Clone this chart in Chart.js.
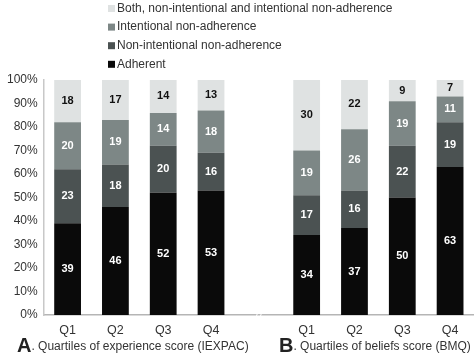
<!DOCTYPE html>
<html><head><meta charset="utf-8">
<script src="https://cdn.jsdelivr.net/npm/chart.js@4"></script>
<style>html,body{margin:0;padding:0;background:#fff}#wrap{width:474px;height:358px;position:relative}</style>
</head><body><div id="wrap"><canvas id="c" width="474" height="358"></canvas></div>
<script>
const categories = ['Q1','Q2','Q3','Q4','','Q1','Q2','Q3','Q4'];
const adherent = [39,46,52,53,null,34,37,50,63];
const nonIntentional = [23,18,20,16,null,17,16,22,19];
const intentional = [20,19,14,18,null,19,26,19,11];
const both = [18,17,14,13,null,30,22,9,7];
const seriesNames = ['Adherent','Non-intentional non-adherence','Intentional non-adherence','Both, non-intentional and intentional non-adherence'];
const seriesColors = ['#0a0a0a','#4b5252','#7d8786','#dfe2e2'];
const labelColors = ['#fff','#fff','#fff','#111'];
const groupTitles = [['A','. Quartiles of experience score (IEXPAC)'],['B','. Quartiles of beliefs score (BMQ)']];
const FONT = "'Liberation Sans', Arial, sans-serif";

const legendPlugin = {
  id:'customLegend',
  afterDraw(chart){
    const ctx = chart.ctx;
    ctx.save();
    ctx.font = '12px ' + FONT;
    ctx.textBaseline = 'middle';
    const rows = [3,2,1,0];
    rows.forEach((si,i)=>{
      const y = 8.5 + i*18.6;
      ctx.fillStyle = seriesColors[si];
      ctx.fillRect(108, y-3.5, 7, 7);
      ctx.fillStyle = '#333';
      ctx.fillText(seriesNames[si], 117, y);
    });
    const starts = [17, 279];
    groupTitles.forEach((g,i)=>{
      let x = starts[i];
      const y = 346;
      ctx.font = 'bold 20px ' + FONT;
      ctx.fillStyle = '#222';
      ctx.fillText(g[0], x, y);
      x += ctx.measureText(g[0]).width;
      ctx.font = '12px ' + FONT;
      ctx.fillStyle = '#333';
      ctx.fillText(g[1], x, y+1);
    });
    const xs = chart.scales.x, ya = chart.chartArea.bottom;
    const bx = xs.getPixelForValue(4);
    ctx.strokeStyle = '#fff';
    ctx.lineWidth = 1;
    ctx.beginPath();
    ctx.moveTo(bx-3, ya+3); ctx.lineTo(bx-1, ya-3);
    ctx.moveTo(bx+1, ya+3); ctx.lineTo(bx+3, ya-3);
    ctx.stroke();
    ctx.restore();
  }
};
const valuePlugin = {
  id:'values',
  afterDatasetsDraw(chart){
    const ctx = chart.ctx;
    ctx.save();
    ctx.font = 'bold 11px ' + FONT;
    ctx.textAlign = 'center';
    ctx.textBaseline = 'middle';
    chart.data.datasets.forEach((ds,di)=>{
      const meta = chart.getDatasetMeta(di);
      meta.data.forEach((el,i)=>{
        const v = ds.data[i];
        if(v==null) return;
        const p = el.getProps(['x','y','base'],true);
        ctx.fillStyle = labelColors[di];
        ctx.fillText(String(v), p.x, (p.y+p.base)/2);
      });
    });
    ctx.restore();
  }
};

new Chart(document.getElementById('c'),{
  type:'bar',
  data:{
    labels:categories,
    datasets:[adherent,nonIntentional,intentional,both].map((d,i)=>({
      label:seriesNames[i], data:d, backgroundColor:seriesColors[i], borderWidth:0,
      barPercentage:0.56, categoryPercentage:1
    }))
  },
  options:{
    responsive:false, animation:false,
    layout:{padding:{top:80,bottom:12,left:1,right:0}},
    plugins:{legend:{display:false},tooltip:{enabled:false}},
    scales:{
      x:{stacked:true, grid:{display:false, drawTicks:false}, border:{display:true,color:'#b5b5b5',width:1.5},
         ticks:{color:'#333',font:{size:12.5,family:FONT},padding:8}},
      y:{stacked:true, min:0, max:100, grid:{display:false, drawTicks:false}, border:{display:true,color:'#c8c8c8',width:1.5},
         ticks:{stepSize:10,color:'#333',font:{size:12,family:FONT},padding:6,callback:v=>v+'%'}}
    }
  },
  plugins:[legendPlugin,valuePlugin]
});
</script></body></html>
